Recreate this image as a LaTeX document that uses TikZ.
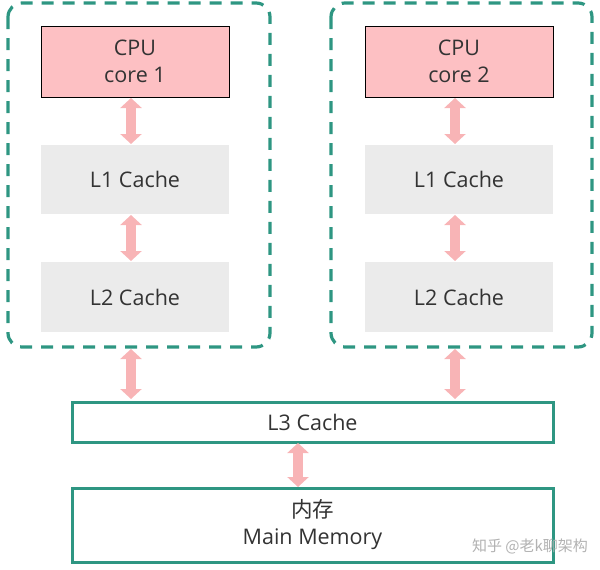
\documentclass[tikz,border=0pt]{standalone}
\usepackage{fontspec}
\setmainfont{Open Sans}
\newfontfamily\cjk{Noto Sans CJK SC}
\usetikzlibrary{arrows.meta}
\definecolor{teal}{HTML}{2E9682}
\definecolor{pinkf}{HTML}{FDC0C3}
\definecolor{arr}{HTML}{F8B4B6}
\definecolor{grayf}{HTML}{EBEBEB}
\definecolor{txt}{HTML}{333333}
\tikzset{
 grp/.style={draw=teal,line width=3.2pt,dash pattern=on 12pt off 9pt,rounded corners=14pt},
 cpu/.style={draw=black,line width=1pt,fill=pinkf,text=txt,font=\fontsize{21.5}{27}\selectfont,align=center},
 cache/.style={fill=grayf,text=txt,font=\fontsize{21.5}{27}\selectfont},
 big/.style={draw=teal,line width=3pt,fill=white,text=txt,font=\fontsize{21.5}{27}\selectfont,align=center},
 dar/.style={draw=arr,line width=10pt,{Triangle[width=21pt,length=10pt]}-{Triangle[width=21pt,length=10pt]}},
}
\begin{document}
\begin{tikzpicture}[x=1pt,y=-1pt]
\useasboundingbox (0,0) rectangle (600,570);
\draw[grp] (8,3) rectangle (270,347);
\draw[grp] (331,3) rectangle (592,347);
\coordinate (g1) at (131,349); \coordinate (g2) at (455,349);
\node[cpu,minimum width=188pt,minimum height=71pt] (c1) at (135,61.5) {CPU\\core 1};
\node[cpu,minimum width=188pt,minimum height=71pt] (c2) at (459,61.5) {CPU\\core 2};
\node[cache,minimum width=188pt,minimum height=69pt] (a1) at (135,179.5) {L1 Cache};
\node[cache,minimum width=188pt,minimum height=69pt] (a2) at (459,179.5) {L1 Cache};
\node[cache,minimum width=188pt,minimum height=70pt] (b1) at (135,297) {L2 Cache};
\node[cache,minimum width=188pt,minimum height=70pt] (b2) at (459,297) {L2 Cache};
\node[big,minimum width=481pt,minimum height=40pt] (l3) at (312.5,422) {L3 Cache};
\node[big,minimum width=481pt,minimum height=74pt] (mm) at (312.5,525) {{\cjk 内存}\\Main Memory};
\draw[dar] (131,98) -- (131,144);
\draw[dar] (455,98) -- (455,144);
\draw[dar] (131,215) -- (131,261);
\draw[dar] (455,215) -- (455,261);
\draw[dar] (g1) -- (131,399);
\draw[dar] (g2) -- (455,399);
\draw[dar] (298,443) -- (298,487);
\node[text=gray!60,font=\cjk\fontsize{15}{17}\selectfont] (wm) at (530,546) {知乎 @老k聊架构};
\end{tikzpicture}
\end{document}
